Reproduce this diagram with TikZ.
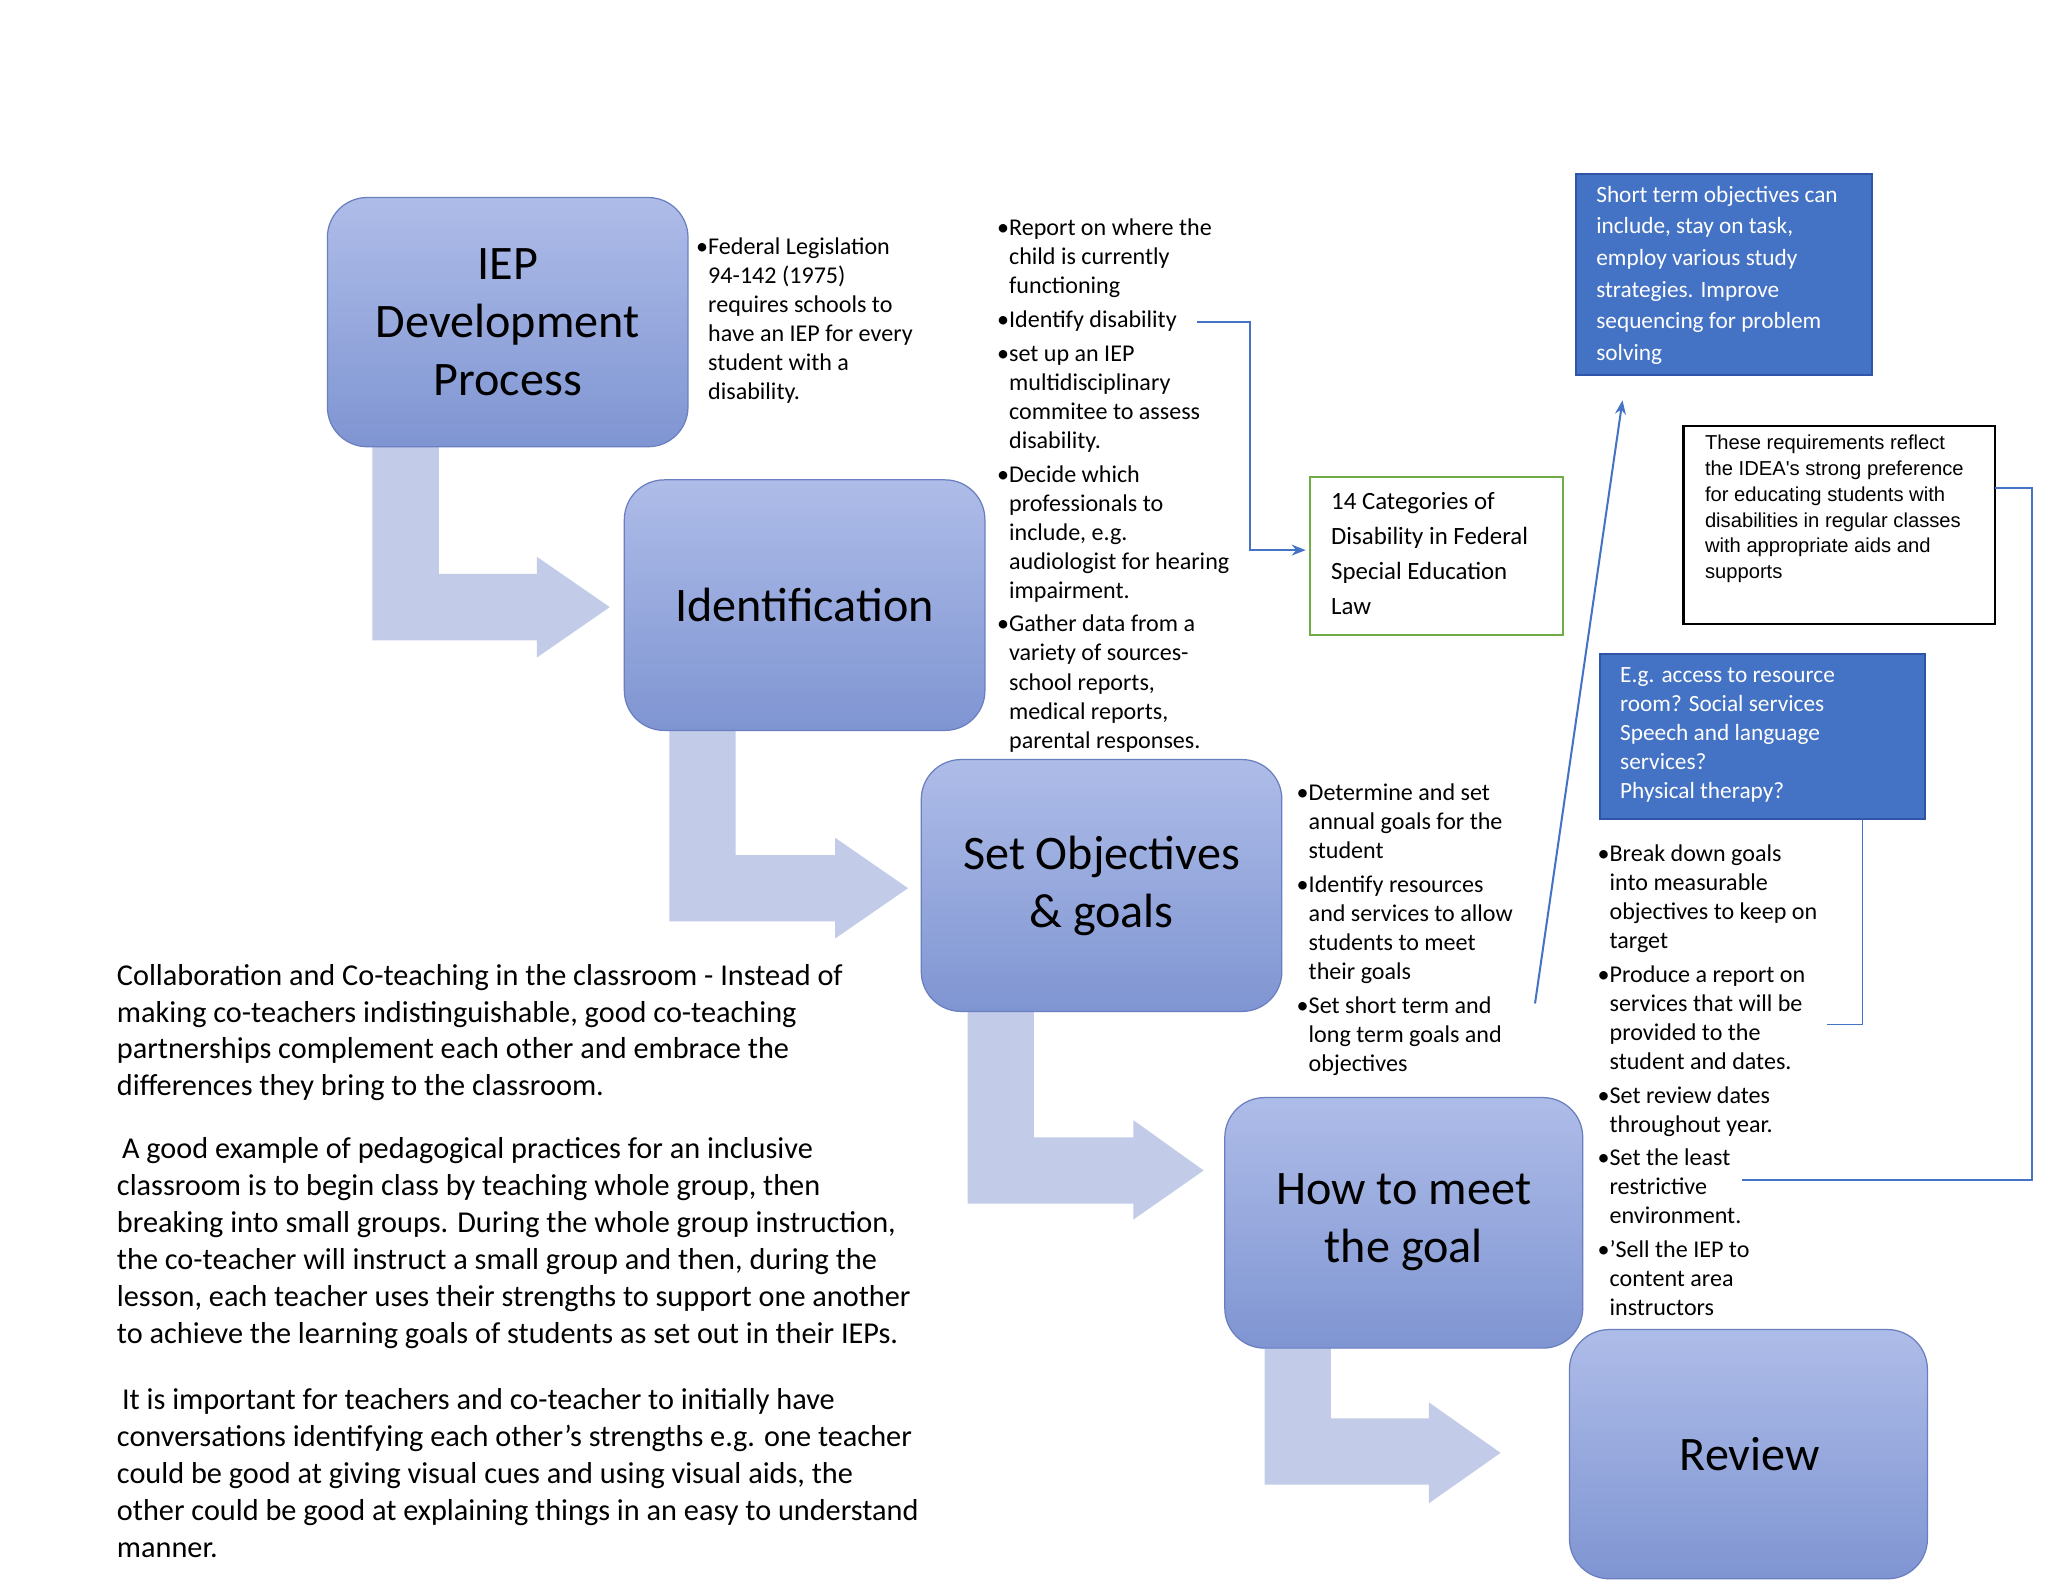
\documentclass[tikz,border=0pt]{standalone}
\usepackage{fontspec}
\setmainfont{Carlito}
\newfontfamily\arialf{Liberation Sans}
\usetikzlibrary{arrows.meta}
\definecolor{boxtop}{HTML}{AEBCE8}
\definecolor{boxbot}{HTML}{7F95D2}
\definecolor{boxline}{HTML}{6A7FC0}
\definecolor{arr}{HTML}{C2CCE8}
\definecolor{bluef}{HTML}{4472C4}
\definecolor{blued}{HTML}{2F55A8}
\definecolor{greenl}{HTML}{70AD47}
\definecolor{conn}{HTML}{4472C4}
\newcommand{\bl}{\textbullet}
\newcommand{\ct}{\phantom{\textbullet}}
\begin{document}
\begin{tikzpicture}[x=0.03cm,y=-0.03cm,
  stepbox/.style={draw=boxline,line width=0.8pt,rounded corners=0.9cm,top color=boxtop,bottom color=boxbot},
  boxtext/.style={font=\fontsize{31}{37.4}\selectfont,align=center},
  bul/.style={anchor=north west,inner sep=0pt,align=left,font=\fontsize{15.5}{18.7}\selectfont},
  para/.style={anchor=north west,inner sep=0pt,align=left,font=\fontsize{19.5}{23.8}\selectfont},
  conline/.style={draw=conn,line width=1.3pt},
  bigarr/.style={fill=arr,draw=none}]
\useasboundingbox (0,0) rectangle (1545,1193);
\fill[white] (0,0) rectangle (1545,1193);
% bent arrows
\fill[arr] (281,337) -- (331,337) -- (331,433) -- (405,433) -- (405,420) -- (460,458) -- (405,496) -- (405,483) -- (281,483) -- cycle;
\fill[arr] (505,551) -- (555,551) -- (555,645) -- (630,645) -- (630,632) -- (685,670) -- (630,708) -- (630,695) -- (505,695) -- cycle;
\fill[arr] (730,763) -- (780,763) -- (780,858) -- (855,858) -- (855,845) -- (908,883) -- (855,920) -- (855,908) -- (730,908) -- cycle;
\fill[arr] (954,1017) -- (1004,1017) -- (1004,1070) -- (1078,1070) -- (1078,1058) -- (1132,1096) -- (1078,1134) -- (1078,1120) -- (954,1120) -- cycle;
% boxes
\draw[stepbox] (247,149) rectangle (519,337);
\node[boxtext] (iep) at (383,243) {IEP\\Development\\Process};
\draw[stepbox] (471,362) rectangle (743,551);
\node[boxtext] (ident) at (607,456) {Identification};
\draw[stepbox] (695,573) rectangle (967,763);
\node[boxtext] (setobj) at (831,668) {Set Objectives\\\& goals};
\draw[stepbox] (924,828) rectangle (1194,1017);
\node[boxtext] (howto) at (1059,922) {How to meet\\the goal};
\draw[stepbox] (1184,1003) rectangle (1454,1191);
\node[boxtext] (review) at (1320,1097) {Review};
% bullet texts
\node[bul] (t1) at (525,179) {\bl Federal Legislation\\\ct 94-142 (1975)\\\ct requires schools to\\\ct have an IEP for every\\\ct student with a\\\ct disability.};
\node[bul] (t2) at (752,165) {\bl Report on where the\\\ct child is currently\\\ct functioning\\[3pt]\bl Identify disability\\[3pt]\bl set up an IEP\\\ct multidisciplinary\\\ct commitee to assess\\\ct disability.\\[3pt]\bl Decide which\\\ct professionals to\\\ct include, e.g.\\\ct audiologist for hearing\\\ct impairment.\\[3pt]\bl Gather data from a\\\ct variety of sources-\\\ct school reports,\\\ct medical reports,\\\ct parental responses.};
\coordinate (idend) at (903,243);
\node[bul] (t3) at (978,591) {\bl Determine and set\\\ct annual goals for the\\\ct student\\[3pt]\bl Identify resources\\\ct and services to allow\\\ct students to meet\\\ct their goals\\[3pt]\bl Set short term and\\\ct long term goals and\\\ct objectives};
\node[bul] (t4) at (1205,637) {\bl Break down goals\\\ct into measurable\\\ct objectives to keep on\\\ct target\\[3pt]\bl Produce a report on\\\ct services that will be\\\ct provided to the\\\ct student and dates.\\[3pt]\bl Set review dates\\\ct throughout year.\\[3pt]\bl Set the least\\\ct restrictive\\\ct environment.\\[3pt]\bl 'Sell the IEP to\\\ct content area\\\ct instructors};
% green box
\draw[greenl,line width=1.3pt] (988,360) rectangle (1179,479);
\node[anchor=north west,inner sep=0pt,align=left,font=\fontsize{16}{22.5}\selectfont] (green) at (1004,371) {14 Categories of\\Disability in Federal\\Special Education\\Law};
% blue boxes
\draw[fill=bluef,draw=blued,line width=1.3pt] (1189,131) rectangle (1412,283);
\node[anchor=north west,inner sep=0pt,align=left,text=white,font=\fontsize{15}{20.4}\selectfont] (blue1) at (1204,140) {Short term objectives can\\include, stay on task,\\employ various study\\strategies. Improve\\sequencing for problem\\solving};
\draw[fill=bluef,draw=blued,line width=1.3pt] (1207,493) rectangle (1452,618);
\node[anchor=north west,inner sep=0pt,align=left,text=white,font=\fontsize{15}{18.8}\selectfont] (blue2) at (1222,503) {E.g. access to resource\\room? Social services\\Speech and language\\services?\\Physical therapy?};
% black box
\draw[black,line width=1.3pt] (1270,321) rectangle (1505,471);
\node[anchor=north west,inner sep=0pt,align=left,font=\arialf\fontsize{13}{16.6}\selectfont] (req) at (1286,328) {These requirements reflect\\the IDEA's strong preference\\for educating students with\\disabilities in regular classes\\with appropriate aids and\\supports};
% connectors
\coordinate (gin) at (985,415);
\draw[conline,-{Stealth[length=9pt,width=7pt]}] (idend) -| (943,415) -- (gin);
\coordinate (sst) at (1158,757);
\coordinate (b1in) at (1224,302);
\draw[conline,-{Stealth[length=9pt,width=7pt]}] (sst) -- (b1in);
\coordinate (b2a) at (1405,618);
\draw[conline,line width=1pt] (b2a) |- (1378,773);
\coordinate (reqr) at (1505,368);
\draw[conline,line width=1pt] (reqr) -- (1533,368) |- (1314,890);
% paragraphs
\node[para] (p1) at (88,727) {Collaboration and Co-teaching in the classroom - Instead of\\making co-teachers indistinguishable, good co-teaching\\partnerships complement each other and embrace the\\differences they bring to the classroom.};
\node[para] (p2) at (88,858) {\,A good example of pedagogical practices for an inclusive\\classroom is to begin class by teaching whole group, then\\breaking into small groups. During the whole group instruction,\\the co-teacher will instruct a small group and then, during the\\lesson, each teacher uses their strengths to support one another\\to achieve the learning goals of students as set out in their IEPs.};
\node[para] (p3) at (88,1047) {\,It is important for teachers and co-teacher to initially have\\conversations identifying each other's strengths e.g. one teacher\\could be good at giving visual cues and using visual aids, the\\other could be good at explaining things in an easy to understand\\manner.};
\end{tikzpicture}
\end{document}
